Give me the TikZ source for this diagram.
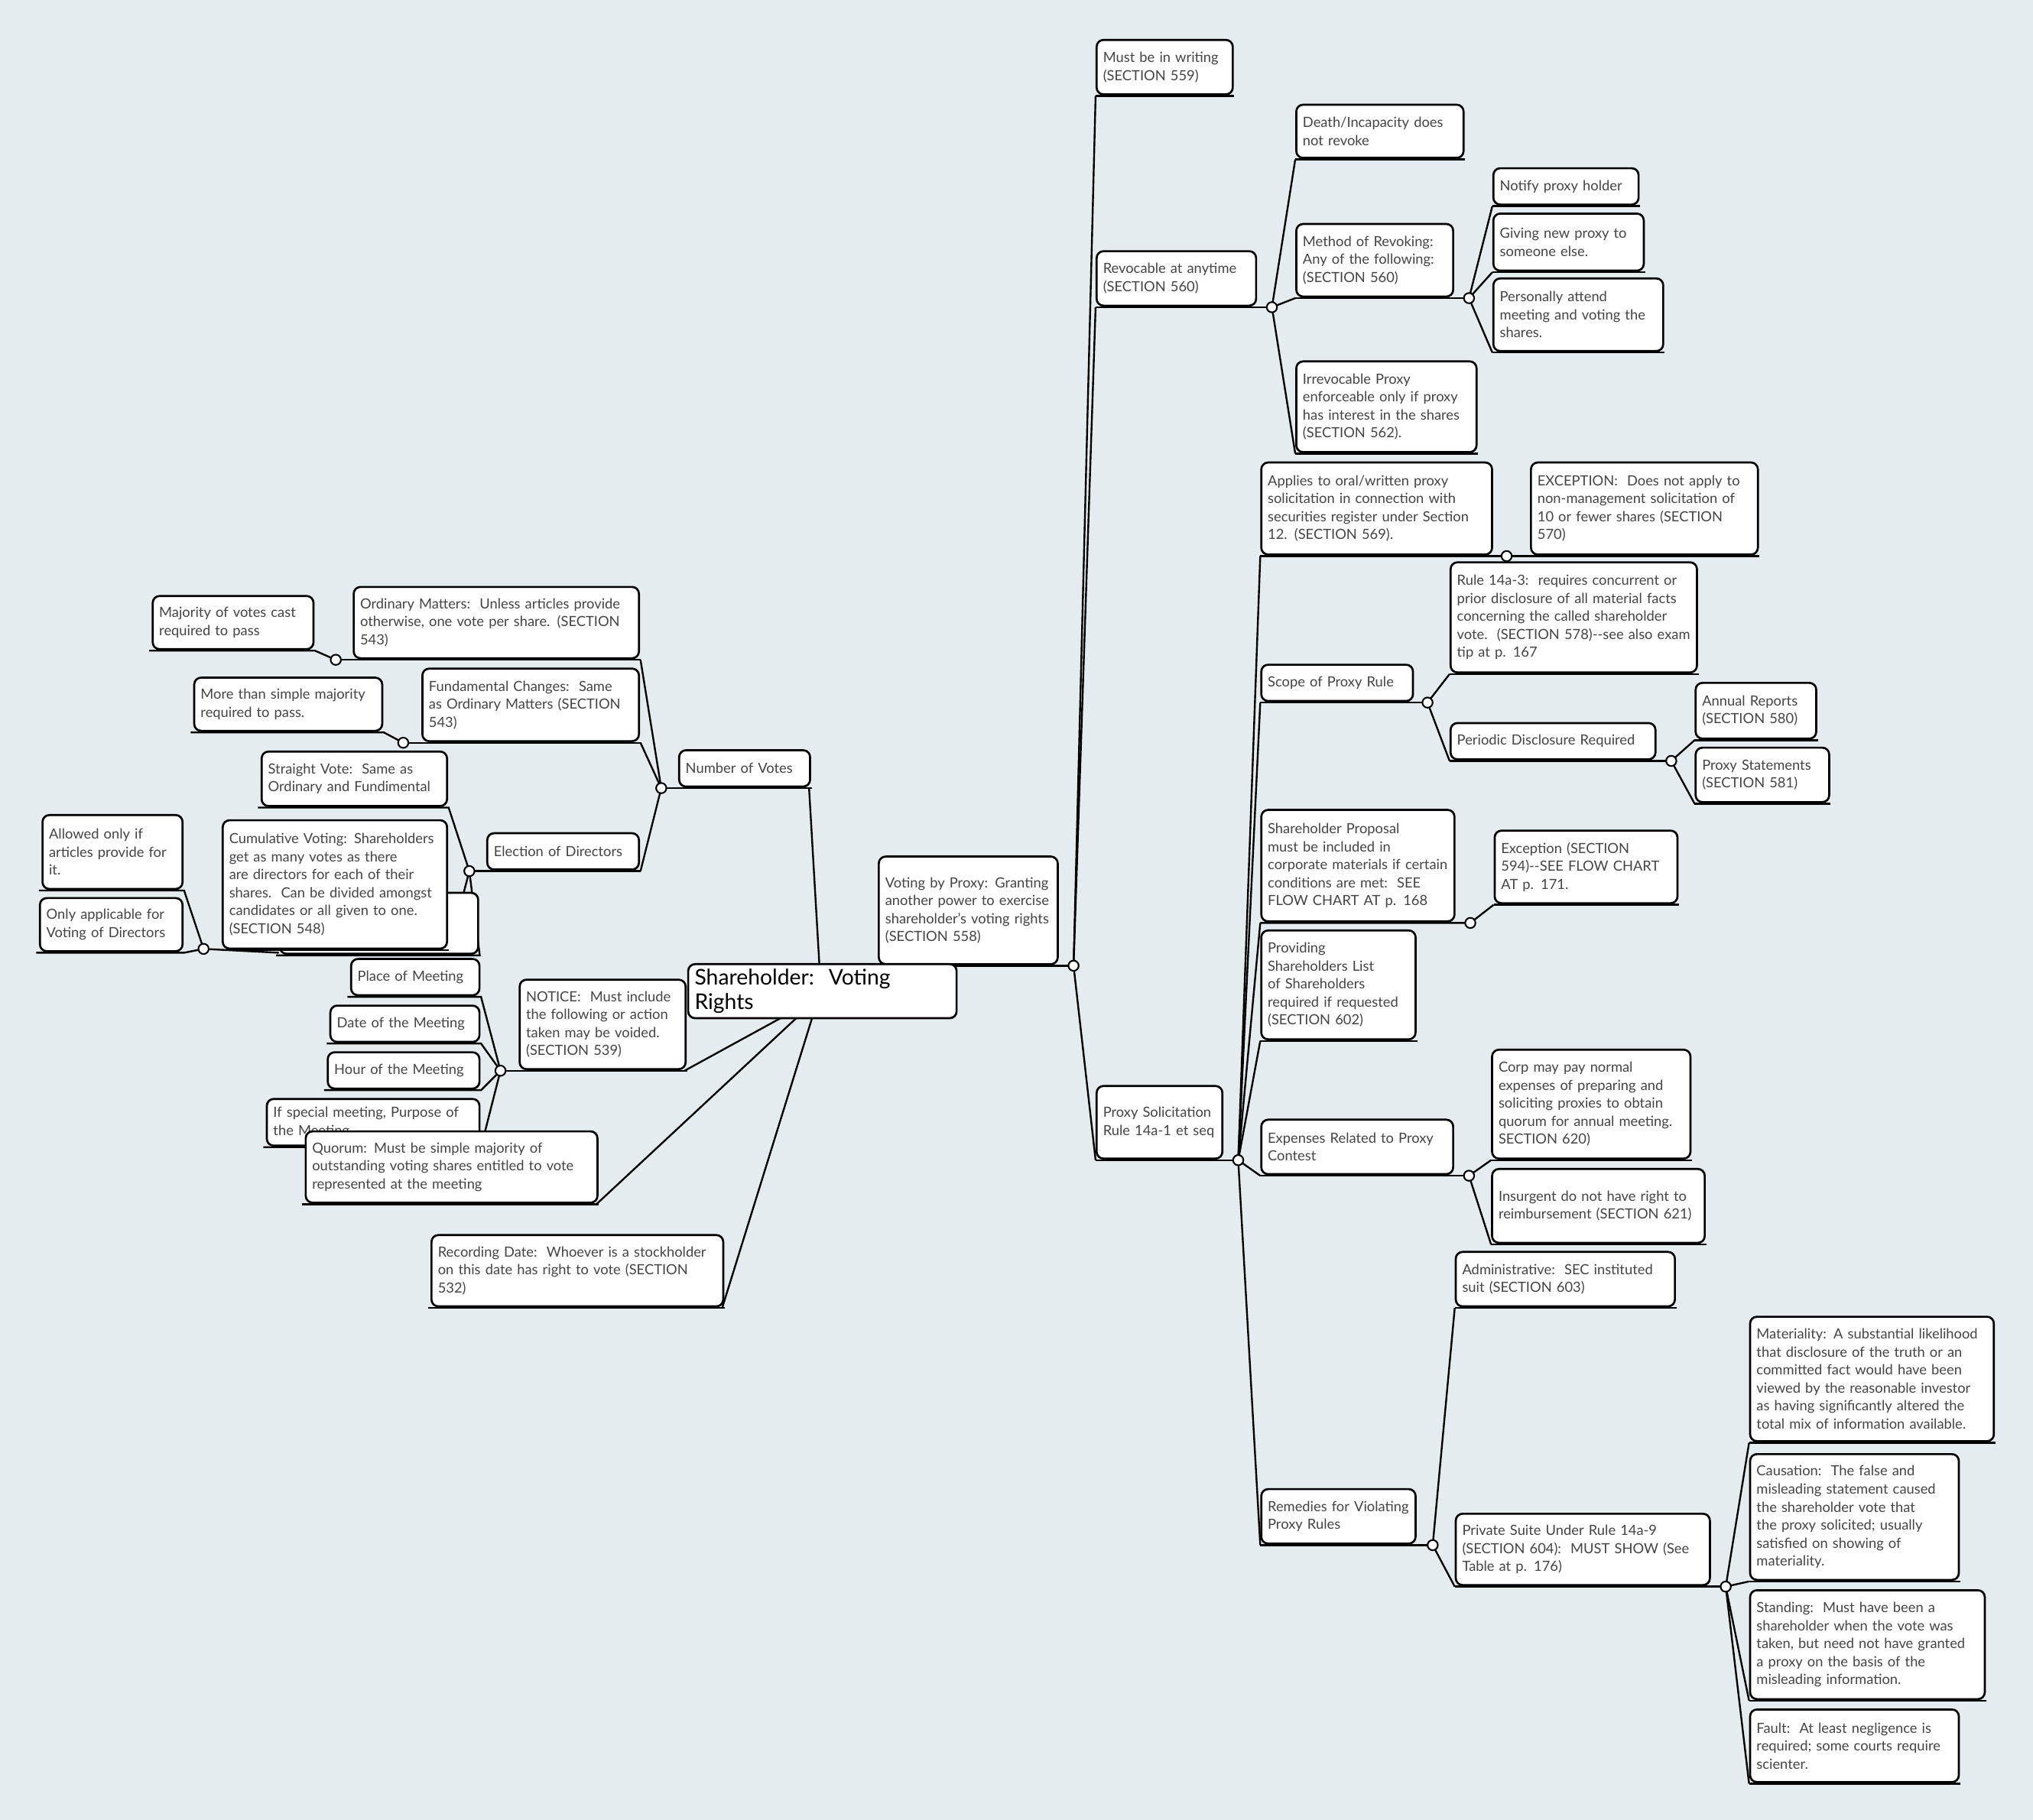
\documentclass[tikz,border=0pt]{standalone}
\usepackage{fontspec}
\usepackage[none]{hyphenat}
\setmainfont{Lato}
\definecolor{bg}{HTML}{E5ECF0}
\definecolor{tx}{HTML}{444444}
\newcommand\bx[6]{%
 \pgfmathsetmacro\tw{(#4-#2-10)*0.02}%
 \pgfmathsetmacro\th{(#5-#3)*0.02}%
 \pgfmathsetmacro\mw{(#4-#2)*0.02}%
 \node[box,text width=\tw cm,minimum height=\th cm,minimum width=\mw cm] (#1) at (#2,#3) {#6};}
\tikzset{
 box/.style={draw=black,line width=0.9pt,fill=white,rounded corners=3pt,anchor=north west,inner xsep=0.1cm,inner ysep=2pt,align=left,font=\fontsize{6.15}{7.9}\selectfont,text=tx},
 ln/.style={line width=0.8pt,black},
 jn/.style={circle,draw=black,fill=white,line width=0.7pt,inner sep=0pt,minimum size=4.5pt}
}
\begin{document}
\begin{tikzpicture}[x=0.02cm,y=-0.02cm]
\fill[bg] (0,0) rectangle (1568,1404);
\useasboundingbox (0,0) rectangle (1568,1404);
% ---------- right side ----------
\coordinate (jr) at (828,745);
\draw[ln] (630,745) -- (jr);
\draw[ln] (jr) -- (845,74);
\draw[ln] (jr) -- (845,237);
\draw[ln] (jr) -- (845,895);
\bx{vp}{677}{660}{815}{743}{Voting by Proxy: Granting another power to exercise shareholder's voting rights (SECTION 558)}
\bx{w}{845}{30}{950}{72}{Must be in writing (SECTION 559)}
\draw[ln] (845,74) -- (952,74);
\bx{rev}{845}{193}{968}{235}{Revocable at anytime (SECTION 560)}
\coordinate (jrev) at (981,237);
\draw[ln] (845,237) -- (jrev);
\draw[ln] (jrev) -- (999,123); \draw[ln] (jrev) -- (999,230); \draw[ln] (jrev) -- (999,350);
\bx{dth}{999}{80}{1128}{121}{Death/Incapacity does not revoke}
\draw[ln] (999,123) -- (1130,123);
\bx{mr}{999}{172}{1120}{228}{Method of Revoking: Any of the following: (SECTION 560)}
\coordinate (jmr) at (1133,230);
\draw[ln] (999,230) -- (jmr);
\bx{irr}{999}{278}{1138}{348}{Irrevocable Proxy enforceable only if proxy has interest in the shares (SECTION 562).}
\draw[ln] (999,350) -- (1140,350);
\draw[ln] (jmr) -- (1151,159); \draw[ln] (jmr) -- (1151,210); \draw[ln] (jmr) -- (1151,272);
\bx{np}{1151}{129}{1263}{157}{Notify proxy holder}
\draw[ln] (1151,159) -- (1265,159);
\bx{gn}{1151}{164}{1267}{208}{Giving new proxy to someone else.}
\draw[ln] (1151,210) -- (1269,210);
\bx{pa}{1151}{214}{1282}{270}{Personally attend meeting and voting the shares.}
\draw[ln] (1151,272) -- (1284,272);
% proxy solicitation
\bx{ps}{845}{837}{942}{893}{Proxy Solicitation Rule 14a-1 et seq}
\coordinate (jps) at (955,895);
\draw[ln] (845,895) -- (jps);
\foreach \yy in {429,542,712,803,907,1192} \draw[ln] (jps) -- (972,\yy);
\bx{ap}{972}{356}{1150}{427}{Applies to oral/written proxy solicitation in connection with securities register under Section 12. (SECTION 569).}
\coordinate (jap) at (1162,429);
\draw[ln] (972,429) -- (jap) -- (1180,429);
\bx{ex1}{1180}{356}{1355}{427}{EXCEPTION:\ \ Does not apply to non-management solicitation of 10 or fewer shares (SECTION 570)}
\draw[ln] (1180,429) -- (1357,429);
\bx{sc}{972}{512}{1089}{540}{Scope of Proxy Rule}
\coordinate (jsc) at (1101,542);
\draw[ln] (972,542) -- (jsc);
\draw[ln] (jsc) -- (1118,520); \draw[ln] (jsc) -- (1118,587);
\bx{r14}{1118}{433}{1308}{518}{Rule 14a-3:\ \ requires concurrent or prior disclosure of all material facts concerning the called shareholder vote.\ \ (SECTION 578){-}{-}see also exam tip at p. 167}
\draw[ln] (1118,520) -- (1310,520);
\bx{pd}{1118}{557}{1276}{585}{Periodic Disclosure Required}
\coordinate (jpd) at (1289,587);
\draw[ln] (1118,587) -- (jpd);
\draw[ln] (jpd) -- (1307,571); \draw[ln] (jpd) -- (1307,620);
\bx{ar}{1307}{526}{1400}{569}{Annual Reports (SECTION 580)}
\draw[ln] (1307,571) -- (1402,571);
\bx{pst}{1307}{576}{1410}{618}{Proxy Statements (SECTION 581)}
\draw[ln] (1307,620) -- (1412,620);
\bx{sp}{972}{624}{1121}{710}{Shareholder Proposal must be included in corporate materials if certain conditions are met:\ \ SEE FLOW CHART AT p. 168}
\coordinate (jsp) at (1134,712);
\draw[ln] (972,712) -- (jsp) -- (1152,698);
\bx{ex2}{1152}{640}{1293}{696}{Exception (SECTION 594){-}{-}SEE FLOW CHART AT p. 171.}
\draw[ln] (1152,698) -- (1295,698);
\bx{psl}{972}{717}{1091}{801}{Providing Shareholders List of Shareholders required if requested (SECTION 602)}
\draw[ln] (972,803) -- (1093,803);
\bx{exp}{972}{863}{1120}{905}{Expenses Related to Proxy Contest}
\coordinate (jexp) at (1133,907);
\draw[ln] (972,907) -- (jexp);
\draw[ln] (jexp) -- (1150,895); \draw[ln] (jexp) -- (1150,960);
\bx{cp}{1150}{809}{1303}{893}{Corp may pay normal expenses of preparing and soliciting proxies to obtain quorum for annual meeting. SECTION 620)}
\draw[ln] (1150,895) -- (1305,895);
\bx{ins}{1150}{901}{1314}{958}{Insurgent do not have right to reimbursement (SECTION 621)}
\draw[ln] (1150,960) -- (1316,960);
\bx{rem}{972}{1148}{1091}{1190}{Remedies for Violating Proxy Rules}
\coordinate (jrem) at (1105,1192);
\draw[ln] (972,1192) -- (jrem);
\draw[ln] (jrem) -- (1122,1009); \draw[ln] (jrem) -- (1122,1224);
\bx{adm}{1122}{965}{1291}{1007}{Administrative:\ \ SEC instituted suit (SECTION 603)}
\draw[ln] (1122,1009) -- (1293,1009);
\bx{pv}{1122}{1167}{1318}{1222}{Private Suite Under Rule 14a-9 (SECTION 604):\ \ MUST SHOW (See Table at p. 176)}
\coordinate (jpv) at (1331,1224);
\draw[ln] (1122,1224) -- (jpv);
\foreach \yy in {1113,1220,1312,1376} \draw[ln] (jpv) -- (1349,\yy);
\bx{mat}{1349}{1015}{1537}{1111}{Materiality: A substantial likelihood that disclosure of the truth or an committed fact would have been viewed by the reasonable investor as having significantly altered the total mix of information available.}
\draw[ln] (1349,1113) -- (1539,1113);
\bx{cau}{1349}{1121}{1510}{1218}{Causation:\ \ The false and misleading statement caused the shareholder vote that the proxy solicited; usually satisfied on showing of materiality.}
\draw[ln] (1349,1220) -- (1512,1220);
\bx{st}{1349}{1226}{1530}{1310}{Standing:\ \ Must have been a shareholder when the vote was taken, but need not have granted a proxy on the basis of the misleading information.}
\draw[ln] (1349,1312) -- (1532,1312);
\bx{fa}{1349}{1318}{1510}{1374}{Fault:\ \ At least negligence is required; some courts require scienter.}
\draw[ln] (1349,1376) -- (1512,1376);
% ---------- left side ----------
\draw[ln] (632,745) -- (624,608);
\draw[ln] (612,780) -- (528,826);
\draw[ln] (620,780) -- (460,929);
\draw[ln] (628,780) -- (557,1009);
\bx{nv}{523}{578}{624}{606}{Number of Votes}
\coordinate (jnv) at (510,608);
\draw[ln] (jnv) -- (626,608);
\draw[ln] (jnv) -- (494,509); \draw[ln] (jnv) -- (494,573); \draw[ln] (jnv) -- (494,672);
\bx{om}{272}{452}{492}{507}{Ordinary Matters:\ \ Unless articles provide otherwise, one vote per share. (SECTION 543)}
\coordinate (jom) at (259,509);
\draw[ln] (jom) -- (494,509);
\draw[ln] (jom) -- (243,502) -- (115,502);
\bx{mv}{117}{459}{241}{500}{Majority of votes cast required to pass}
\bx{fc}{325}{515}{492}{571}{Fundamental Changes:\ \ Same as Ordinary Matters (SECTION 543)}
\coordinate (jfc) at (311,573);
\draw[ln] (jfc) -- (494,573);
\draw[ln] (jfc) -- (296,565) -- (147,565);
\bx{ms}{149}{522}{294}{563}{More than simple majority required to pass.}
\bx{ed}{375}{642}{492}{670}{Election of Directors}
\coordinate (jed) at (362,672);
\draw[ln] (jed) -- (494,672);
\draw[ln] (jed) -- (346,623) -- (199,623);
\draw[ln] (jed) -- (370,737) -- (213,737);
\draw[ln] (jed) -- (346,733);
\bx{sv}{201}{579}{344}{621}{Straight Vote:\ \ Same as Ordinary and Fundimental}
\bx{hid}{215}{688}{368}{735}{Availability of Cumulative Voting}
\coordinate (jhid) at (157,732);
\draw[ln] (jhid) -- (215,735);
\draw[ln] (jhid) -- (142,687) -- (30,687);
\draw[ln] (jhid) -- (142,735) -- (28,735);
\bx{cv}{171}{632}{344}{731}{Cumulative Voting: Shareholders get as many votes as there are directors for each of their shares.\ \ Can be divided amongst candidates or all given to one.\ \ (SECTION 548)}
\draw[ln] (171,733) -- (346,733);
\bx{al}{32}{628}{140}{685}{Allowed only if articles provide for it.}
\bx{oa}{30}{692}{140}{733}{Only applicable for Voting of Directors}
\bx{no}{400}{755}{528}{824}{NOTICE:\ \ Must include the following or action taken may be voided. (SECTION 539)}
\coordinate (jno) at (386,826);
\draw[ln] (jno) -- (530,826);
\draw[ln] (jno) -- (371,769) -- (268,769);
\draw[ln] (jno) -- (371,805) -- (252,805);
\draw[ln] (jno) -- (371,841) -- (250,841);
\draw[ln] (jno) -- (371,885) -- (203,885);
\bx{pm}{270}{739}{369}{767}{Place of Meeting}
\bx{dm}{254}{775}{369}{803}{Date of the Meeting}
\bx{hm}{252}{811}{369}{839}{Hour of the Meeting}
\bx{sm}{205}{847}{369}{883}{If special meeting, Purpose of the Meeting}
\bx{q}{235}{872}{460}{927}{Quorum: Must be simple majority of outstanding voting shares entitled to vote represented at the meeting}
\draw[ln] (233,929) -- (462,929);
\bx{rd}{332}{952}{557}{1007}{Recording Date:\ \ Whoever is a stockholder on this date has right to vote (SECTION 532)}
\draw[ln] (330,1009) -- (559,1009);
% root
\node[box,font=\fontsize{9.5}{11}\selectfont,text=black,minimum width=207*0.02cm,minimum height=37*0.02cm,text width=197*0.02cm] (root) at (530,743) {Shareholder:\ \ Voting Rights};
% junction circles
\foreach \j in {jr,jrev,jmr,jps,jap,jsc,jpd,jsp,jexp,jrem,jpv,jnv,jom,jfc,jed,jhid,jno} \node[jn] at (\j) {};
\end{tikzpicture}
\end{document}
